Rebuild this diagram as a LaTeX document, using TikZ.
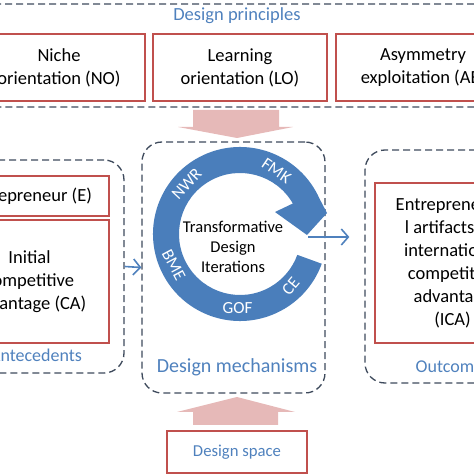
\documentclass[tikz,border=0pt]{standalone}
\usepackage{fontspec}
\setmainfont{Carlito}
\usetikzlibrary{arrows.meta}
\definecolor{boxred}{HTML}{C0504D}
\definecolor{lblue}{HTML}{4F81BD}
\definecolor{ringblue}{HTML}{4A7EBB}
\definecolor{dashgray}{HTML}{3E4A5C}
\definecolor{pinkarr}{HTML}{E6B9B8}
\tikzset{
  redbox/.style={draw=boxred, line width=1.8pt, inner sep=0pt, align=center,
    font=\fontsize{18.5}{23}\selectfont},
  groupbox/.style={draw=dashgray, dash pattern=on 7pt off 4pt, line width=1.3pt,
    rounded corners=20pt, inner sep=0pt},
  grouplbl/.style={text=lblue, font=\fontsize{18.5}{22}\selectfont},
  ringlbl/.style={text=white, inner sep=0pt, font=\fontsize{17}{20}\selectfont},
  flow/.style={draw=lblue, line width=1.6pt, -{Straight Barb[length=7pt,width=16pt]}},
}
\begin{document}
\begin{tikzpicture}[x=1pt,y=1pt]
\useasboundingbox (0,0) rectangle (474,474);
% design principles
\node[groupbox, minimum width=514pt, minimum height=103pt] (dp) at (237,418.5) {};
\node[grouplbl] (dplbl) at (237,458) {Design principles};
\node[redbox, minimum width=172pt, minimum height=67pt] (no) at (59,406.5) {Niche\\orientation (NO)};
\node[redbox, minimum width=174pt, minimum height=67pt] (lo) at (240,406.5) {Learning\\orientation (LO)};
\node[redbox, minimum width=174pt, minimum height=67pt] (ae) at (423,406.5) {Asymmetry\\exploitation (AE)};
\fill[pinkarr] (193,364) -- (193,347) -- (178,347) -- (237,336) -- (293,347) -- (279,347) -- (279,364) -- cycle;
% antecedents
\node[groupbox, minimum width=189pt, minimum height=213pt] (ant) at (29.5,207.5) {};
\node[redbox, minimum width=159pt, minimum height=40pt] (ent) at (29.5,278) {Entrepreneur (E)};
\node[redbox, minimum width=159pt, minimum height=123pt] (ca) at (29.5,192.5) {Initial\\competitive\\advantage (CA)};
\node[grouplbl, font=\fontsize{18}{22}\selectfont] (antlbl) at (36,119) {Antecedents};
% design mechanisms
\node[groupbox, minimum width=183pt, minimum height=251pt] (mech) at (233.5,206.5) {};
\node[grouplbl, font=\fontsize{20}{24}\selectfont] (mechlbl) at (237,107) {Design mechanisms};
\begin{scope}[shift={(240,240)}]
\fill[ringblue] (-20:87) arc[start angle=-20, end angle=-336, radius=87]
  -- (87,21) -- (67,-1) -- (35,22) -- (30:61)
  arc[start angle=30, end angle=340, radius=61] -- cycle;
\node[ringlbl, rotate=47] (nwr) at (137:73) {NWR};
\node[ringlbl, rotate=-34] (fmk) at (60:73) {FMK};
\node[ringlbl, rotate=-62] (bme) at (205:73) {BME};
\node[ringlbl] (gof) at (-92:74) {GOF};
\node[ringlbl, rotate=50] (ce) at (-46:73) {CE};
\end{scope}
\node[align=center, font=\fontsize{16.5}{20}\selectfont] (tdi) at (233,227) {Transformative\\Design\\Iterations};
% outcomes
\node[groupbox, minimum width=175pt, minimum height=233pt] (out) at (452.5,207.5) {};
\node[redbox, minimum width=155pt, minimum height=160pt] (ica) at (452.5,211) {Entrepreneuria\\l artifacts for\\international\\competitive\\advantage\\(ICA)};
\node[grouplbl, font=\fontsize{18}{22}\selectfont] (outlbl) at (453,107) {Outcomes};
% design space
\fill[pinkarr] (193,49) -- (193,62) -- (177,62) -- (237,77) -- (295,62) -- (278,62) -- (278,49) -- cycle;
\node[redbox, text=lblue, minimum width=140pt, minimum height=42pt, font=\fontsize{16.7}{20}\selectfont] (ds) at (237,22) {Design space};
% connectors
\coordinate (ringout) at (308,237);
\draw[flow] (ant.east) -- (mech.west);
\draw[flow, shorten >=15pt] (ringout) -- (ringout -| out.west);
\end{tikzpicture}
\end{document}
